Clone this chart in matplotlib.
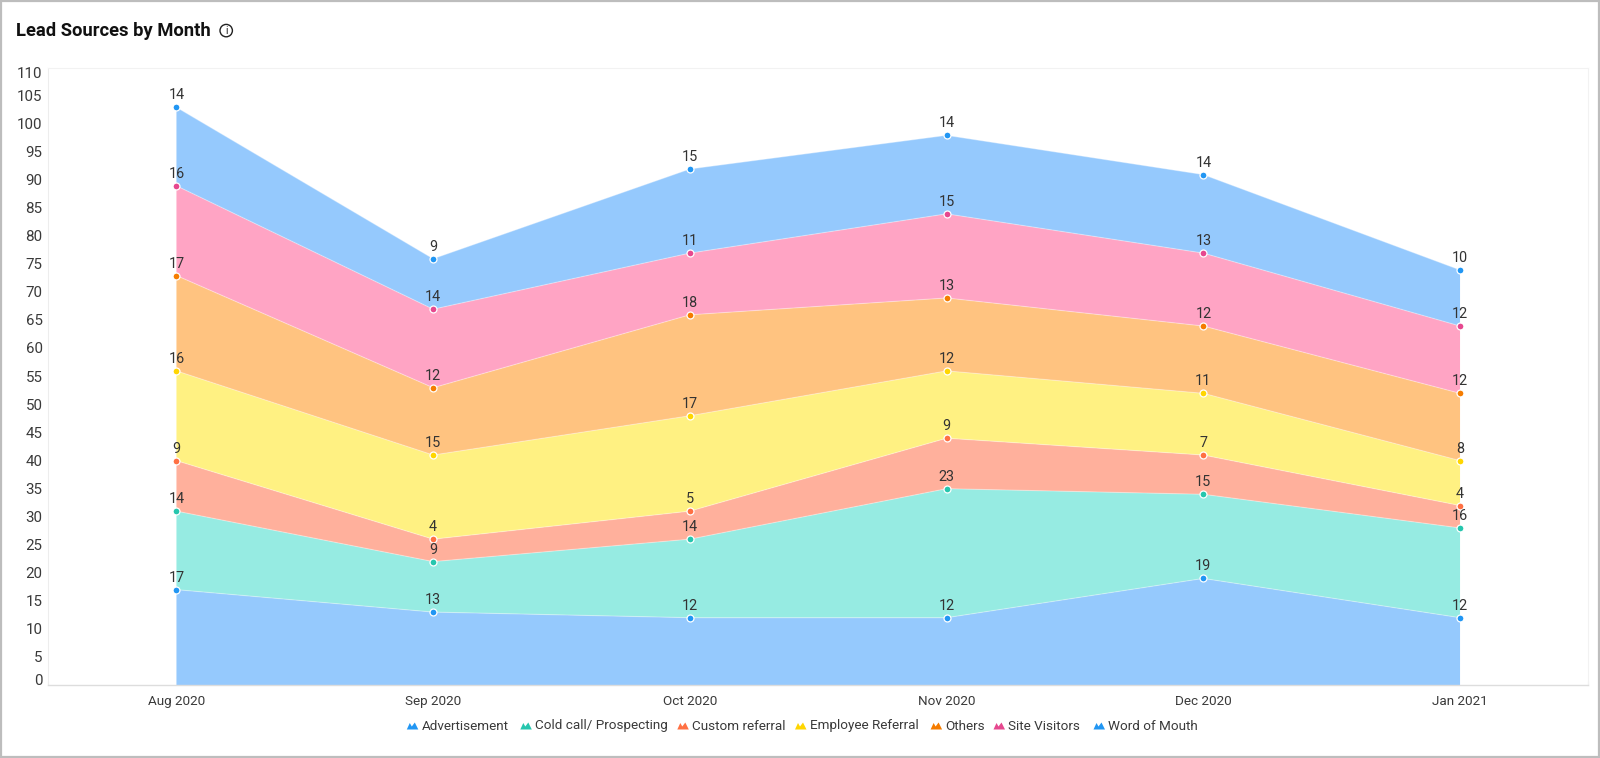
import numpy as np
import matplotlib
matplotlib.use("Agg")
import matplotlib.pyplot as plt
from matplotlib.patches import Circle, Rectangle, Polygon
from matplotlib.transforms import ScaledTranslation

plt.rcParams['font.family'] = ['Roboto', 'DejaVu Sans']

# Leads per source for each month
months = ["Aug 2020", "Sep 2020", "Oct 2020", "Nov 2020", "Dec 2020", "Jan 2021"]
advertisement = [17, 13, 12, 12, 19, 12]
cold_call = [14, 9, 14, 23, 15, 16]
custom_referral = [9, 4, 5, 9, 7, 4]
employee_referral = [16, 15, 17, 12, 11, 8]
others = [17, 12, 18, 13, 12, 12]
site_visitors = [16, 14, 11, 15, 13, 12]
word_of_mouth = [14, 9, 15, 14, 14, 10]

names = ["Advertisement", "Cold call/ Prospecting", "Custom referral", "Employee Referral",
         "Others", "Site Visitors", "Word of Mouth"]
series = [advertisement, cold_call, custom_referral, employee_referral,
          others, site_visitors, word_of_mouth]
line_colors = ["#2196F3", "#26C6AE", "#FF7043", "#FFD600", "#F57C00", "#E6488F", "#2196F3"]
fill_colors = ["#95C9FD", "#96EBE2", "#FFB09C", "#FFF182", "#FFC380", "#FFA4C4", "#95C9FD"]
y_ticks = list(range(0, 111, 5))

W, H = 1600, 758
fig = plt.figure(figsize=(W / 100, H / 100), dpi=100, facecolor="white")


def px_axes(left, top, right, bottom):
    return fig.add_axes([left / W, 1 - bottom / H, (right - left) / W, (bottom - top) / H])


ax = px_axes(48.1, 68, 1588.4, 685)
x = np.arange(len(months))
ax.set_xlim(-0.5, 5.5)
ax.set_ylim(0, 110)
ax.set_facecolor("white")

# Stacked areas, bottom series first
base = np.zeros(len(months))
tops = []
for vals, fill in zip(series, fill_colors):
    top = base + np.array(vals)
    ax.fill_between(x, base, top, facecolor=fill, edgecolor="none", zorder=2)
    ax.plot(x, top, color="white", lw=0.8, alpha=0.35, zorder=3, solid_capstyle="butt")
    tops.append(top)
    base = top

# Markers and value labels on every stack boundary
for vals, top, col in zip(series, tops, line_colors):
    ax.plot(x, top, ls="none", marker="o", ms=5, mfc=col, mec="white", mew=0.9,
            zorder=5, clip_on=False)
    for xi, yi, v in zip(x, top, vals):
        ax.annotate(str(v), (xi, yi), xytext=(0, 3.6), textcoords="offset points",
                    ha="center", va="bottom", fontsize=10.4, color="#333333", zorder=6)

# Axis styling
for side in ["top", "right"]:
    ax.spines[side].set_color("#F2F2F2")
    ax.spines[side].set_linewidth(0.8)
ax.spines["left"].set_color("#EDEDED")
ax.spines["left"].set_linewidth(0.8)
ax.spines["bottom"].set_color("#DDDDDD")
ax.spines["bottom"].set_linewidth(1.0)

ax.set_xticks(x)
ax.set_xticklabels(months, fontsize=9.7, color="#3A3A3A")
ax.tick_params(axis="x", length=0, pad=7.5)
ax.set_xticks(np.arange(-0.5, 6), minor=True)
ax.tick_params(axis="x", which="minor", length=3, color="#E3E3E3", width=0.8, direction="in")

ax.set_yticks(y_ticks)
ax.set_yticklabels([str(t) for t in y_ticks], fontsize=10.9, color="#3A3A3A")
ax.tick_params(axis="y", length=0, pad=4)

# Labels sit just above their ticks; the two end labels are pulled inside the plot height
for t, lab in zip(y_ticks, ax.get_yticklabels()):
    shift = 0.5
    if t == 0:
        shift = 5.5
    elif t == 110:
        shift = -4.5
    lab.set_transform(lab.get_transform() + ScaledTranslation(0, shift / 100, fig.dpi_scale_trans))

# Full-figure overlay for the title, info icon, legend and outer frame
ov = fig.add_axes([0, 0, 1, 1], facecolor="none", zorder=10)
ov.set_xlim(0, W)
ov.set_ylim(H, 0)
ov.axis("off")

ov.add_patch(Rectangle((1, 1), W - 2, H - 2, fill=False, ec="#BDBDBD", lw=1.6))
ov.text(15.5, 30.5, "Lead Sources by Month", fontsize=13.2, fontweight="bold", color="#111111",
        va="center", ha="left")
ov.add_patch(Circle((226.2, 30.6), 6.2, fill=False, ec="#222222", lw=1.0))
ov.text(226.2, 30.8, "i", fontsize=7.5, color="#222222", ha="center", va="center")

# Legend entries use a small double-peak glyph followed by the series name
legend_x = [406.8, 520.3, 677.3, 795, 930.6, 993.5, 1093.5]
legend_y = 726
for lx, name, col in zip(legend_x, names, line_colors):
    ov.add_patch(Polygon([(lx, legend_y + 3.5), (lx + 3, legend_y - 3), (lx + 5, legend_y + 0.5),
                          (lx + 8, legend_y - 3.5), (lx + 11.5, legend_y + 3.5)],
                         closed=True, fc=col, ec="none"))
    ov.text(lx + 15, legend_y, name, fontsize=9.7, color="#3A3A3A", va="center", ha="left")

fig.savefig("out.png", dpi=100)
